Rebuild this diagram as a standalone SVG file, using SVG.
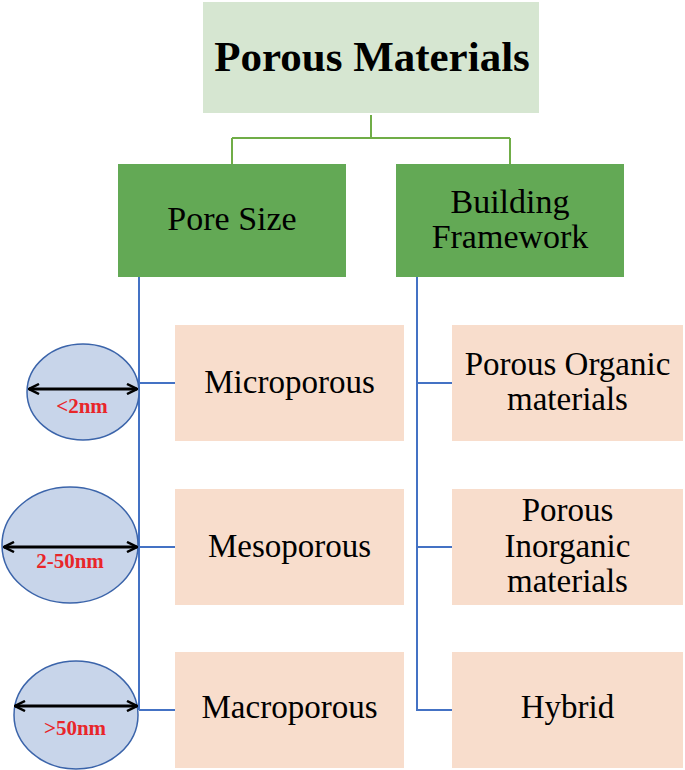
<svg xmlns="http://www.w3.org/2000/svg" width="685" height="770" viewBox="0 0 685 770">
<style>
.serif{font-family:"Liberation Serif","Times New Roman",serif;fill:#000;text-anchor:middle}
.title{font-size:43px;font-weight:bold}
.cat{font-size:34px}
.item{font-size:33px}
.lbl{font-family:"Liberation Serif","Times New Roman",serif;font-size:21px;font-weight:bold;fill:#E8262A;text-anchor:middle}
.pink{fill:#F8DDCC}
.green{fill:#63A955}
.blue{stroke:#4472C4;stroke-width:2;fill:none}
.gline{stroke:#70AD47;stroke-width:2;fill:none}
.pore{fill:#C8D5EA;stroke:#3B64AA;stroke-width:1.5}
.arr{stroke:#000;stroke-width:3;fill:none;marker-start:url(#ah);marker-end:url(#ah)}
</style>
<defs>
<marker id="ah" viewBox="0 0 12 12" refX="11" refY="6" markerWidth="12" markerHeight="12" markerUnits="userSpaceOnUse" orient="auto-start-reverse">
<path d="M1,1 L11,6 L1,11" fill="none" stroke="#000" stroke-width="2.5"/>
</marker>
</defs>
<rect width="685" height="770" fill="#fff"/>
<g id="connectors">
<path class="gline" d="M371,115 V138 M232,138 H510 M232,138 V164 M510,138 V164"/>
<path class="blue" d="M139,277 V710 M139,383 H175 M139,547 H175 M139,710 H175"/>
<path class="blue" d="M417,277 V710 H452 M417,383 H452 M417,547 H452"/>
</g>
<g id="porous-materials">
<rect x="203" y="2" width="336" height="111" fill="#D6E6D1"/>
<text class="serif title" x="372" y="71">Porous Materials</text>
</g>
<g id="pore-size">
<rect class="green" x="118" y="164" width="228" height="113"/>
<text class="serif cat" x="232" y="230">Pore Size</text>
</g>
<g id="building-framework">
<rect class="green" x="396" y="164" width="228" height="113"/>
<text class="serif cat" x="510" y="213">Building</text>
<text class="serif cat" x="510" y="248">Framework</text>
</g>
<g id="microporous">
<rect class="pink" x="175" y="325" width="229" height="116"/>
<text class="serif item" x="289.5" y="393">Microporous</text>
</g>
<g id="mesoporous">
<rect class="pink" x="175" y="489" width="229" height="116"/>
<text class="serif item" x="289.5" y="557">Mesoporous</text>
</g>
<g id="macroporous">
<rect class="pink" x="175" y="652" width="229" height="116"/>
<text class="serif item" x="289.5" y="718">Macroporous</text>
</g>
<g id="porous-organic">
<rect class="pink" x="452" y="325" width="231" height="116"/>
<text class="serif item" x="567.5" y="375">Porous Organic</text>
<text class="serif item" x="567.5" y="410">materials</text>
</g>
<g id="porous-inorganic">
<rect class="pink" x="452" y="489" width="231" height="116"/>
<text class="serif item" x="567.5" y="521">Porous</text>
<text class="serif item" x="567.5" y="557">Inorganic</text>
<text class="serif item" x="567.5" y="592">materials</text>
</g>
<g id="hybrid">
<rect class="pink" x="452" y="652" width="231" height="116"/>
<text class="serif item" x="567.5" y="718">Hybrid</text>
</g>
<g id="pore-micro">
<ellipse class="pore" cx="83" cy="392" rx="56" ry="48"/>
<line class="arr" x1="29" y1="389" x2="137" y2="389"/>
<text class="lbl" x="82" y="413">&lt;2nm</text>
</g>
<g id="pore-meso">
<ellipse class="pore" cx="70" cy="545" rx="68" ry="58"/>
<line class="arr" x1="4" y1="547" x2="137" y2="547"/>
<text class="lbl" x="70" y="568">2-50nm</text>
</g>
<g id="pore-macro">
<ellipse class="pore" cx="76" cy="715" rx="62" ry="54"/>
<line class="arr" x1="15" y1="706" x2="137" y2="706"/>
<text class="lbl" x="75" y="735">&gt;50nm</text>
</g>
</svg>
